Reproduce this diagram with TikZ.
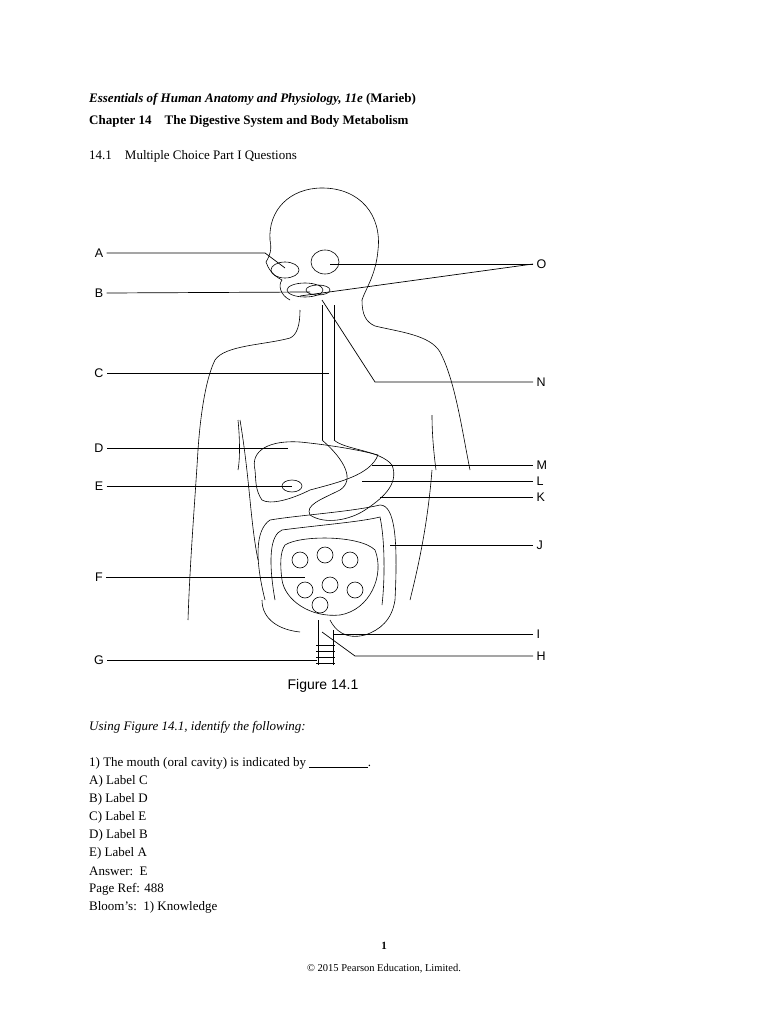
\documentclass[tikz,border=0pt]{standalone}
\usepackage{fontspec}
\setmainfont{Liberation Serif}
\newfontfamily\arial{Liberation Sans}
\begin{document}
\begin{tikzpicture}[x=1pt,y=-1pt,
  lbl/.style={font=\arial\fontsize{12.5}{14}\selectfont},
  ld/.style={line width=0.7pt},
  body/.style={line width=0.6pt},
  txt/.style={anchor=west,inner sep=0,font=\fontsize{13}{15}\selectfont}]
\useasboundingbox (0,0) rectangle (768,1024);
% header
\node[txt] (t1) at (89,99) {\textbf{\textit{Essentials of Human Anatomy and Physiology, 11e}} \textbf{(Marieb)}};
\node[txt] (t2) at (89,121) {\textbf{Chapter 14\quad The Digestive System and Body Metabolism}};
\node[txt] (t3) at (89,156) {14.1\quad Multiple Choice Part I Questions};
% body outline
\draw[body] (290,300) .. controls (280,295) and (278,285) .. (282,280) .. controls (272,275) and (268,268) .. (266,262)
  .. controls (270,255) and (272,250) .. (270,240) .. controls (268,210) and (290,188) .. (322,188)
  .. controls (360,188) and (382,215) .. (378,250) .. controls (376,275) and (365,290) .. (362,300)
  .. controls (362,315) and (366,322) .. (375,326) .. controls (400,332) and (430,335) .. (440,352)
  .. controls (455,380) and (462,430) .. (470,470);
\draw[body] (300,310) .. controls (300,325) and (297,335) .. (290,338) .. controls (265,345) and (225,345) .. (215,360)
  .. controls (205,380) and (200,420) .. (198,450) .. controls (195,500) and (190,560) .. (188,620);
\draw[body] (238,420) .. controls (240,440) and (240,460) .. (238,470);
\draw[body] (432,415) .. controls (432,435) and (434,455) .. (436,470);
% esophagus
\draw[body] (322,305) -- (322,440) (334,305) -- (334,440);
% mouth / salivary
\draw[body] (285,270) ellipse (14 and 8) (305,290) ellipse (18 and 7) (325,262) ellipse (14 and 12) (318,290) ellipse (12 and 5);
% liver
\draw[body] (255,470) .. controls (250,450) and (270,440) .. (300,442) .. controls (330,445) and (360,450) .. (378,455)
  .. controls (370,475) and (340,482) .. (310,490) .. controls (290,500) and (270,505) .. (262,500) .. controls (255,490) and (256,480) .. (255,470);
% stomach
\draw[body] (334,440) .. controls (345,450) and (380,450) .. (392,465) .. controls (400,485) and (380,500) .. (365,510)
  .. controls (350,520) and (325,525) .. (310,515) .. controls (305,505) and (320,500) .. (340,490) .. controls (355,480) and (345,460) .. (322,440);
% gallbladder
\draw[body] (292,486) ellipse (10 and 6);
% large intestine
\draw[body] (265,600) .. controls (255,560) and (255,530) .. (270,520) .. controls (300,515) and (350,512) .. (380,505)
  .. controls (395,505) and (398,540) .. (395,600) .. controls (392,620) and (380,630) .. (365,635) .. controls (345,640) and (335,630) .. (330,620);
\draw[body] (275,600) .. controls (268,560) and (270,535) .. (282,530) .. controls (320,525) and (360,522) .. (380,517)
  .. controls (385,540) and (385,580) .. (382,605);
% small intestine
\draw[body] (285,545) .. controls (300,535) and (360,535) .. (375,550) .. controls (385,575) and (370,610) .. (340,615)
  .. controls (310,618) and (285,600) .. (282,580) .. controls (280,565) and (280,552) .. (285,545);
\foreach \x/\y in {300/560,325/555,350/560,305/590,330/585,355/590,320/605}
  \draw[body] (\x,\y) circle (8);
% rectum
\draw[body] (318,620) -- (318,665) (333,630) -- (333,665);
\foreach \y in {645,651,657,663} \draw[body] (316,\y) -- (335,\y);
\draw[body] (262,600) .. controls (262,620) and (280,630) .. (300,632);
% torso
\draw[body] (240,420) .. controls (250,480) and (250,520) .. (258,560);
\draw[body] (432,470) .. controls (428,520) and (420,560) .. (410,600);
% labels and leaders
\foreach \n/\y in {A/253,B/293,C/373,D/448,E/486,F/577,G/660}
  \node[lbl] (\n) at (99,\y) {\n};
\foreach \n/\y in {O/264,N/382,M/465,L/481,K/497,J/545,I/634,H/656}
  \node[lbl,anchor=west] (\n) at (533,\y) {\n};
\coordinate (a1) at (265,253); \coordinate (a2) at (285,268);
\draw[ld] (A.east) -- (a1) -- (a2);
\coordinate (b1) at (310,292); \draw[ld] (B.east) -- (b1);
\coordinate (c1) at (329,373); \draw[ld] (C.east) -- (c1);
\coordinate (d1) at (288,448); \draw[ld] (D.east) -- (d1);
\coordinate (e1) at (292,486); \draw[ld] (E.east) -- (e1);
\coordinate (f1) at (305,577); \draw[ld] (F.east) -- (f1);
\coordinate (g1) at (317,660); \draw[ld] (G.east) -- (g1);
\coordinate (o1) at (330,264); \coordinate (o2) at (300,296);
\draw[ld] (O.west) -- (o1); \draw[ld] (O.west) -- (o2);
\coordinate (n1) at (375,382); \coordinate (n2) at (322,300);
\draw[ld] (N.west) -- (n1) -- (n2);
\coordinate (m1) at (372,465); \draw[ld] (M.west) -- (m1);
\coordinate (l1) at (362,481); \draw[ld] (L.west) -- (l1);
\coordinate (k1) at (380,497); \draw[ld] (K.west) -- (k1);
\coordinate (j1) at (390,545); \draw[ld] (J.west) -- (j1);
\coordinate (i1) at (333,634); \draw[ld] (I.west) -- (i1);
\coordinate (h1) at (355,656); \coordinate (h2) at (322,632);
\draw[ld] (H.west) -- (h1) -- (h2);
\node[font=\arial\fontsize{14}{16}\selectfont] (fig) at (323,686) {Figure 14.1};
% question text
\node[txt] (q0) at (89,727) {\textit{Using Figure 14.1, identify the following:}};
\node[txt] (q1) at (89,763) {1) The mouth (oral cavity) is indicated by \underline{\hspace{4.5em}}.};
\node[txt] (q2) at (89,781) {A) Label C};
\node[txt] (q3) at (89,799) {B) Label D};
\node[txt] (q4) at (89,817) {C) Label E};
\node[txt] (q5) at (89,835) {D) Label B};
\node[txt] (q6) at (89,853) {E) Label A};
\node[txt] (q7) at (89,871) {Answer:\ \ E};
\node[txt] (q8) at (89,889) {Page Ref: 488};
\node[txt] (q9) at (89,907) {Bloom's:\ \ 1) Knowledge};
\node[font=\bfseries\fontsize{11}{12}\selectfont] (pg) at (384,946) {1};
\node[font=\fontsize{10.5}{12}\selectfont] (cp) at (384,969) {\textcopyright\ 2015 Pearson Education, Limited.};
\end{tikzpicture}
\end{document}
